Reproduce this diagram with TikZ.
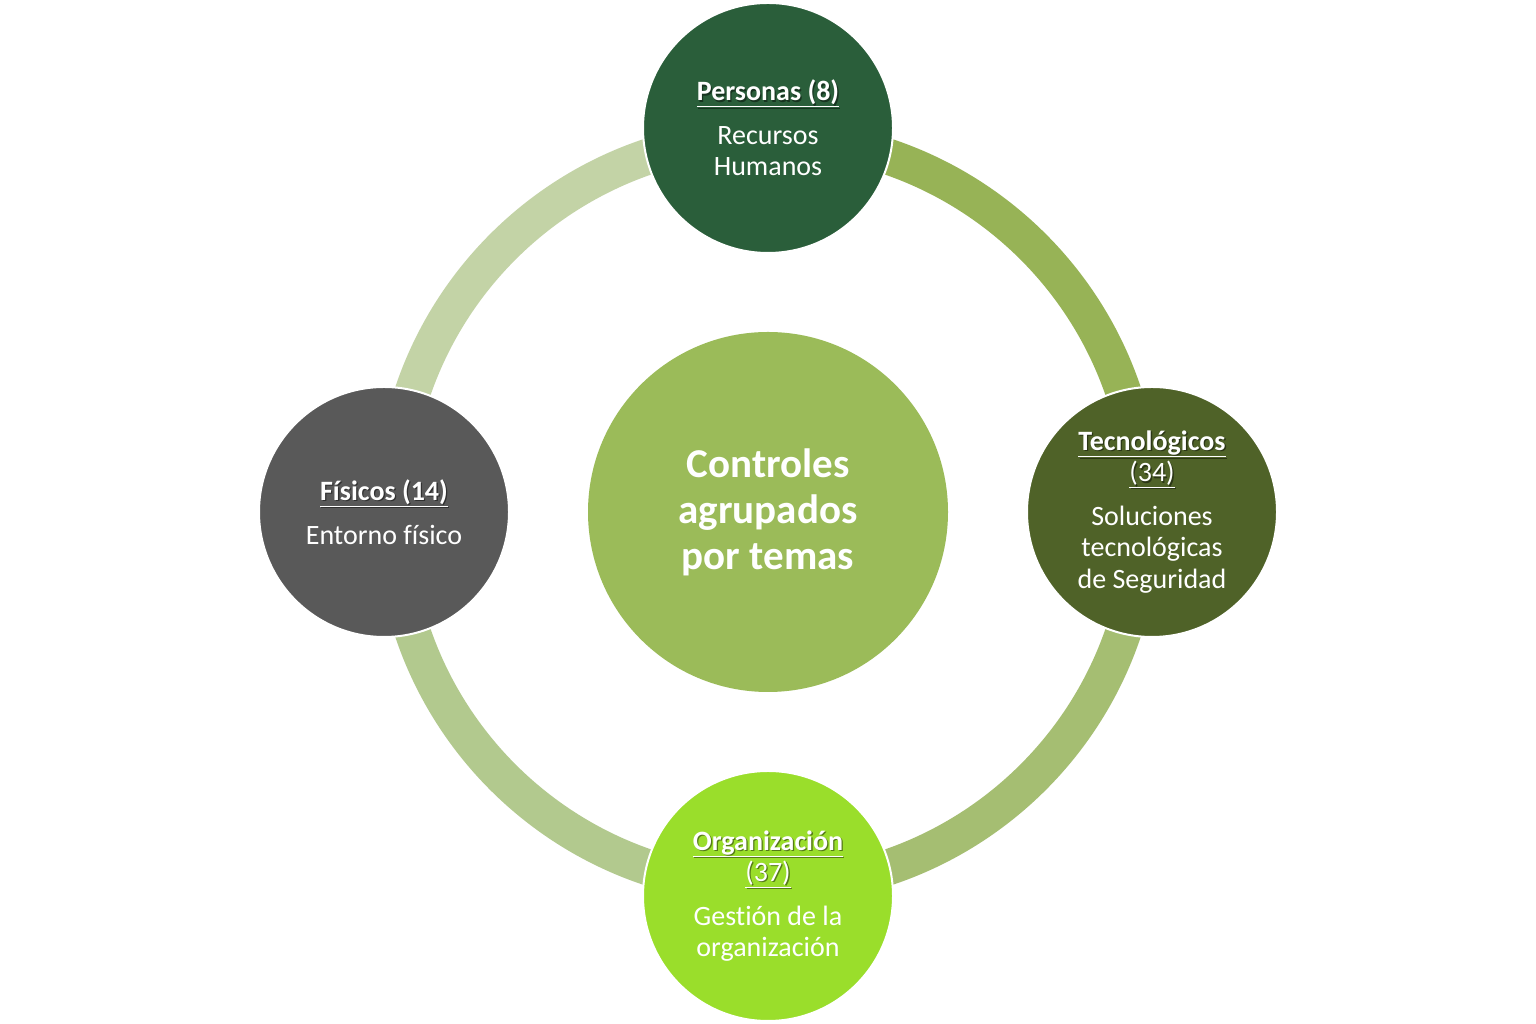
\documentclass[tikz,border=0pt]{standalone}
\usepackage{fontspec}
\setmainfont{Carlito}[Ligatures=NoCommon]
\usetikzlibrary{backgrounds}
\definecolor{cTop}{HTML}{2A5E3A}
\definecolor{cRight}{HTML}{4F6228}
\definecolor{cLeft}{HTML}{595959}
\definecolor{cBot}{HTML}{9ADE2B}
\definecolor{cMid}{HTML}{9BBB59}
\definecolor{aTL}{HTML}{C3D3A6}
\definecolor{aTR}{HTML}{97B356}
\definecolor{aBR}{HTML}{A5BE72}
\definecolor{aBL}{HTML}{B2C98E}
\newcommand\hdr[2]{\leavevmode\rlap{\kern1.3pt\raisebox{-1.3pt}{\color{black!45!#1}\underline{\bfseries #2}}}\underline{\bfseries #2}}
\newcommand\hdrr[2]{\leavevmode\rlap{\kern1.3pt\raisebox{-1.3pt}{\color{black!45!#1}\underline{#2}}}\underline{#2}}
\tikzset{
  sat/.style={circle, minimum size=250pt, inner sep=0pt, draw=white, line width=2pt,
    text=white, align=center, font=\fontsize{28}{31.5}\selectfont},
  midc/.style={circle, minimum size=360pt, inner sep=0pt, fill=cMid, text=white,
    align=center, font=\bfseries\fontsize{41}{46}\selectfont},
  ring/.style={line width=36pt},
}
\begin{document}
\begin{tikzpicture}[x=1pt,y=1pt]
\useasboundingbox (0,0) rectangle (1536,1024);
\node[midc] (c) at (768,512) {Controles\\agrupados\\por temas};
\node[sat, fill=cTop] (per) at (768,896) {\hdr{cTop}{Personas (8)}\\[12pt]Recursos\\Humanos};
\node[sat, fill=cRight] (tec) at (1152,512) {\hdr{cRight}{Tecnológicos}\\\hdrr{cRight}{(34)}\\[12pt]Soluciones\\tecnológicas\\de Seguridad};
\node[sat, fill=cBot] (org) at (768,128) {\hdr{cBot}{Organización}\\\hdrr{cBot}{(37)}\\[12pt]Gestión de la\\organización};
\node[sat, fill=cLeft] (fis) at (384,512) {\hdr{cLeft}{Físicos (14)}\\[12pt]Entorno físico};
\begin{pgfonlayer}{background}
\fill[white] (0,0) rectangle (1536,1024);
\draw[ring, aTL] (c) ++(90:375) arc[start angle=90, end angle=180, radius=375];
\draw[ring, aTR] (c) ++(0:375) arc[start angle=0, end angle=90, radius=375];
\draw[ring, aBR] (c) ++(270:375) arc[start angle=270, end angle=360, radius=375];
\draw[ring, aBL] (c) ++(180:375) arc[start angle=180, end angle=270, radius=375];
\end{pgfonlayer}
\end{tikzpicture}
\end{document}
